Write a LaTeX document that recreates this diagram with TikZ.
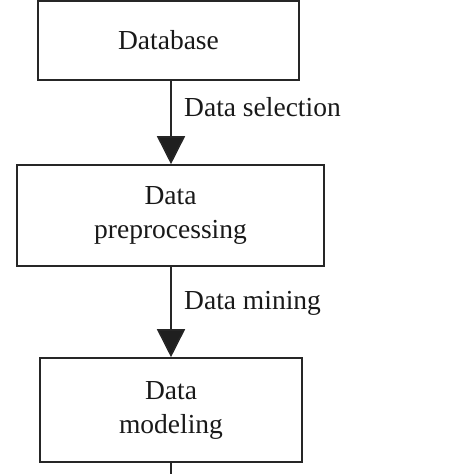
\documentclass[tikz,border=0pt]{standalone}
\usepackage{fontspec}
\setmainfont{Liberation Serif}
\usetikzlibrary{positioning,calc,arrows.meta}

\begin{document}
\begin{tikzpicture}[x=1pt,y=-1pt,
    stage/.style={draw=black!85, line width=1.6pt, align=center, inner sep=0pt,
        text=black!90, font=\fontsize{27.5}{34}\selectfont},
    flow/.style={draw=black!85, line width=1.6pt, -{Triangle[width=28pt,length=28pt,fill=black!88]}},
    lbl/.style={anchor=base west, inner sep=0pt, text=black!90,
        font=\fontsize{27.5}{34}\selectfont}]
    \useasboundingbox (0,0) rectangle (474,474);

    % Boxes
    \node[stage, minimum width=261pt, minimum height=79pt] (db) at (168.5,40.5) {Database};
    \node[stage, minimum width=307pt, minimum height=101pt] (prep) at (170.5,215.5) {Data\\preprocessing};
    \node[stage, minimum width=262pt, minimum height=104pt] (model) at (171,410) {Data\\modeling};
    \coordinate (out) at (171,476);

    % Arrows
    \draw[flow] (db.south -| model.north) -- (prep.north -| model.north);
    \draw[flow] (prep.south -| model.north) -- (model.north);
    \draw[draw=black!85, line width=1.6pt] (model.south) -- (out);

    % Labels
    \node[lbl] (sel) at (184,116) {Data selection};
    \node[lbl] (mine) at (184,309) {Data mining};
\end{tikzpicture}
\end{document}
